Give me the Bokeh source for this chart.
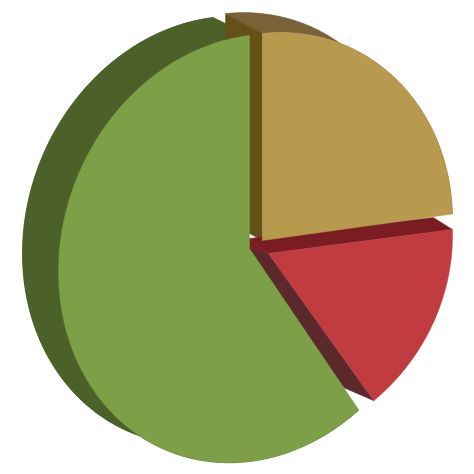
import math
from bokeh.plotting import figure
from bokeh.embed import file_html
from bokeh.resources import INLINE

# Shares of the pie, clockwise from 12 o'clock
categories = ["Tan", "Red", "Green"]
shares = [24.5, 15.8, 59.7]

face_colors = {"Tan": "#b89a4e", "Red": "#c13c40", "Green": "#7c9f47"}
top_wall_colors = {"Tan": "#7a6238", "Red": "#7a1c22", "Green": "#4b6129"}
side_wall_colors = {"Tan": "#655018", "Red": "#5b282b", "Green": "#4b6129"}

# Projected geometry of each exploded slice: apex, radii, shear, extrusion offsets
geometry = {
    "Tan": dict(cx=262, cy=240, rx=190, ry=207, k=-20, ox=-37, oy=-20),
    "Red": dict(cx=268, cy=253, rx=184, ry=192, k=-18, ox=-19, oy=-15),
    "Green": dict(cx=249, cy=248, rx=191, ry=213, k=-23, ox=-36, oy=-18),
}
red_wall_start_offset = (-19, -12)
red_wall_end_offset = (-30, -13)
red_side_apex_offset = (-24, -8)

angles = {}
running = 0.0
for name, share in zip(categories, shares):
    angles[name] = (running * 3.6, (running + share) * 3.6)
    running += share


def rim(g, a0, a1, dx=0.0, dy=0.0, n=160):
    xs, ys = [], []
    for i in range(n + 1):
        a = math.radians(a0 + (a1 - a0) * i / n)
        xs.append(g["cx"] + g["rx"] * math.sin(a) + dx)
        ys.append(g["cy"] - g["ry"] * math.cos(a) + g["k"] * math.sin(a) + dy)
    return xs, ys


p = figure(width=466, height=466, x_range=(0, 466), y_range=(466, 0),
           output_backend="svg", toolbar_location=None, min_border=0)
p.axis.visible = False
p.grid.visible = False
p.outline_line_color = None
p.background_fill_color = "white"
p.border_fill_color = "white"


def add(xs, ys, color):
    p.patch(xs, ys, fill_color=color, line_color=color, line_width=0.5)


def sector(g, a0, a1, dx=0.0, dy=0.0):
    xs, ys = rim(g, a0, a1, dx, dy)
    return [g["cx"] + dx] + xs, [g["cy"] + dy] + ys


def sweep(g, a0, a1):
    xs, ys = rim(g, a0, a1)
    bx, by = rim(g, a0, a1, g["ox"], g["oy"])
    return xs + bx[::-1], ys + by[::-1]


def radial_wall(g, a, end_offset=None, apex_offset=None):
    x, y = rim(g, a, a, n=1)
    x0, y0 = x[0], y[0]
    ex, ey = end_offset if end_offset else (g["ox"], g["oy"])
    ax, ay = apex_offset if apex_offset else (g["ox"], g["oy"])
    return ([g["cx"], x0, x0 + ex, g["cx"] + ax],
            [g["cy"], y0, y0 + ey, g["cy"] + ay])


# Green extrusion
g = geometry["Green"]
a0, a1 = angles["Green"]
add(*sector(g, a0, a1, g["ox"], g["oy"]), top_wall_colors["Green"])
add(*sweep(g, a0, a1), top_wall_colors["Green"])

# Tan extrusion
g = geometry["Tan"]
a0, a1 = angles["Tan"]
add(*sweep(g, a0, a1), top_wall_colors["Tan"])
add(*radial_wall(g, a0), side_wall_colors["Tan"])

# Red extrusion
g = geometry["Red"]
a0, a1 = angles["Red"]
add(*radial_wall(g, a1, red_wall_end_offset, red_side_apex_offset), side_wall_colors["Red"])
add(*radial_wall(g, a0, red_wall_start_offset), top_wall_colors["Red"])
# Inner corner where the two red walls meet behind the apex
add([g["cx"], g["cx"] + g["ox"], g["cx"] + red_side_apex_offset[0]],
    [g["cy"], g["cy"] + g["oy"], g["cy"] + red_side_apex_offset[1]],
    top_wall_colors["Red"])

# Faces
for name in ["Tan", "Red", "Green"]:
    g = geometry[name]
    a0, a1 = angles[name]
    add(*sector(g, a0, a1), face_colors[name])

open("out.html", "w").write(file_html(p, INLINE))
